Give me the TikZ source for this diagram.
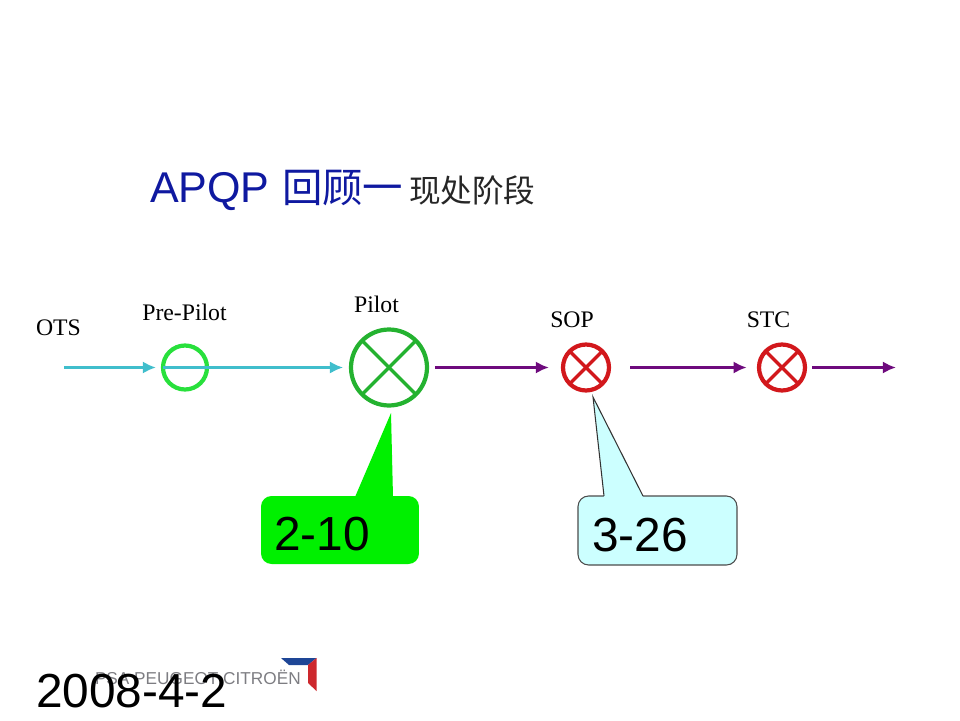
\documentclass[tikz,border=0pt]{standalone}
\usepackage{fontspec}
\setmainfont{Liberation Serif}
\setsansfont{Liberation Sans}
\newfontfamily\cjk{Noto Sans CJK SC}
\usetikzlibrary{arrows.meta}
\definecolor{flowcyan}{RGB}{64,190,204}
\definecolor{flowpurple}{RGB}{110,10,125}
\definecolor{gategreen}{RGB}{36,178,48}
\definecolor{gatelime}{RGB}{40,224,60}
\definecolor{gatered}{RGB}{210,24,28}
\definecolor{notegreen}{RGB}{0,240,0}
\definecolor{notecyan}{RGB}{204,255,255}
\definecolor{titleblue}{RGB}{15,25,160}
\definecolor{logogray}{RGB}{125,125,130}
\definecolor{logoblue}{RGB}{30,70,150}
\definecolor{logored}{RGB}{205,40,45}
\tikzset{
	treenode/.style = {inner sep=0pt, outer sep=0pt},
	phase/.style = {treenode, font=\fontsize{13.5pt}{15pt}\selectfont},
	gate/.style = {treenode, circle, line width=2.4pt},
	cross/.style = {line width=2pt},
	flow/.style = {line width=2pt, -{Latex[length=7.5pt,width=7pt]}},
	note/.style = {treenode, rounded corners=6pt, text height=23.6pt, text depth=0pt, align=left, font=\sffamily\fontsize{27.2pt}{30pt}\selectfont},
	head/.style = {treenode, anchor=base west}
}

\begin{document}
\begin{tikzpicture}[x=0.02cm, y=-0.02cm]
		\useasboundingbox (0,0) rectangle (960,720);

		% title
		\node [head, text=titleblue, font=\sffamily\fontsize{24.5pt}{28pt}\selectfont] (title) at (150,202) {APQP};
		\node [head, text=titleblue, font=\cjk\fontsize{23pt}{25pt}\selectfont] (titleback) at (282,202) {回顾一};
		\node [head, text=black!85, font=\cjk\fontsize{18pt}{20pt}\selectfont] (titlenow) at (409,202) {现处阶段};

		% gates
		\node [gate, draw=gatelime, minimum size=0.88cm] (prepilot) at (185,367.5) {};
		\node [gate, draw=gategreen, minimum size=1.52cm] (pilot) at (389,367.5) {};
		\node [gate, draw=gatered, minimum size=0.92cm] (sop) at (586,367.5) {};
		\node [gate, draw=gatered, minimum size=0.92cm] (stc) at (782,367.5) {};
		\draw [cross, gategreen] (pilot.north west) -- (pilot.south east);
		\draw [cross, gategreen] (pilot.north east) -- (pilot.south west);
		\draw [cross, gatered] (sop.north west) -- (sop.south east);
		\draw [cross, gatered] (sop.north east) -- (sop.south west);
		\draw [cross, gatered] (stc.north west) -- (stc.south east);
		\draw [cross, gatered] (stc.north east) -- (stc.south west);

		% phase names
		\node [phase] (ots) at (58.5,328) {OTS};
		\node [phase] (prepilotname) at (184.5,312) {Pre-Pilot};
		\node [phase] (pilotname) at (376.5,304) {Pilot};
		\node [phase] (sopname) at (572,319.5) {SOP};
		\node [phase] (stcname) at (768.5,319.5) {STC};

		% flow arrows
		\coordinate (start) at (64,367.5);
		\coordinate (end) at (896,367.5);
		\draw [flow, flowcyan, shorten >=4pt] (start) -- (prepilot.west);
		\draw [flow, flowcyan, shorten >=4.5pt] (prepilot.west) -- (pilot.west);
		\draw [flow, flowpurple, shorten <=4.5pt, shorten >=8pt] (pilot.east) -- (sop.west);
		\draw [flow, flowpurple, shorten <=12pt, shorten >=7pt] (sop.east) -- (stc.west);
		\draw [flow, flowpurple, shorten <=4pt] (stc.east) -- (end);

		% callouts
		\node [note, fill=notegreen, text width=2.64cm, inner xsep=0.26cm, minimum height=1.36cm] (feb) at (340,530) {2-10};
		\coordinate (febtip) at (391,413);
		\fill [notegreen] (355,497) -- (febtip) -- (393,497) -- cycle;
		\node [note, draw=black!70, line width=0.6pt, fill=notecyan, text width=2.62cm, inner xsep=0.28cm, minimum height=1.38cm] (mar) at (657.5,530.5) {3-26};
		\coordinate (martip) at (593,397);
		\fill [notecyan] (604,497) -- (martip) -- (643,497) -- cycle;
		\draw [black!80, line width=0.6pt] (604,496) -- (martip) -- (643,496);

		% footer
		\node [head, text=logogray, font=\sffamily\fontsize{9.8pt}{12pt}\selectfont] (logotext) at (95,684) {PSA PEUGEOT CITROËN};
		\coordinate (logocorner) at (316.5,658);
		\fill [logoblue] (281,658) -- (logocorner) -- (308,665) -- (289,665) -- cycle;
		\fill [logored] (logocorner) -- (316.5,691) -- (308,683) -- (308,665) -- cycle;
		\node [head, font=\sffamily\fontsize{27.2pt}{30pt}\selectfont] (date) at (36,707) {2008-4-2};
\end{tikzpicture}
\end{document}
